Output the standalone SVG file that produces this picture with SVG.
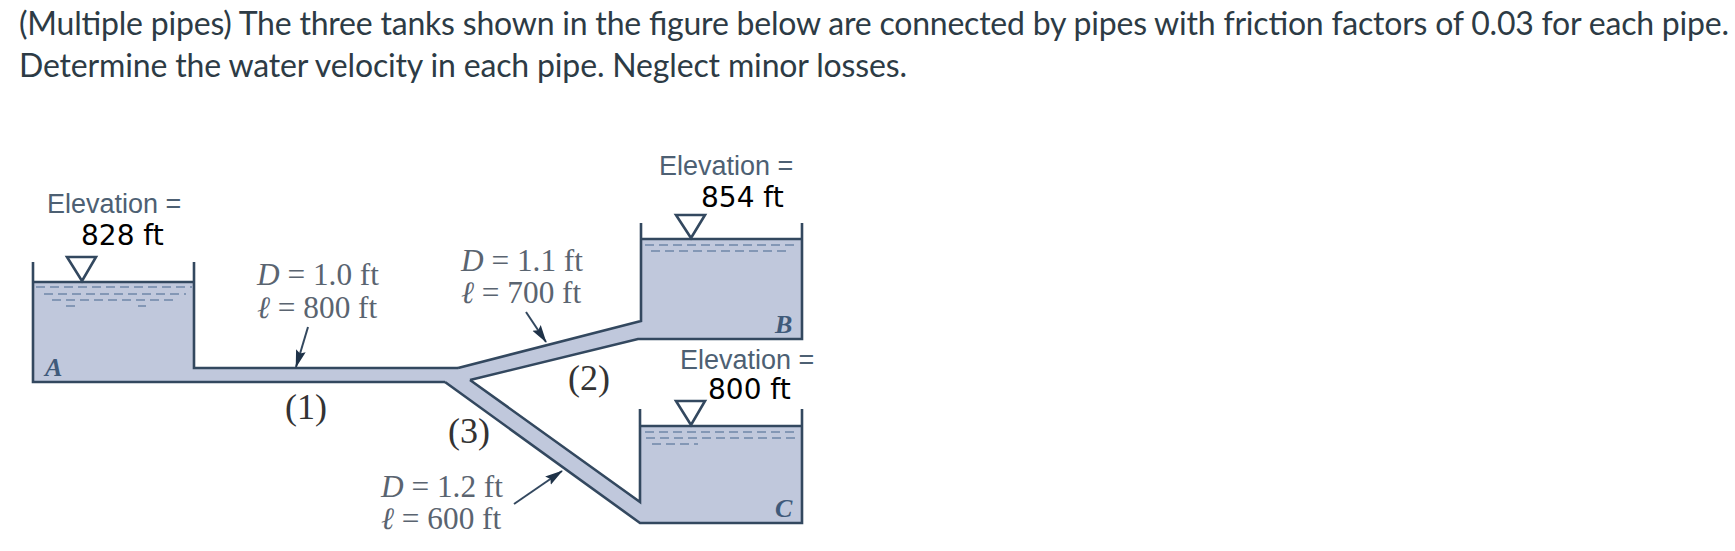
<svg xmlns="http://www.w3.org/2000/svg" width="1735" height="551" viewBox="0 0 1735 551">
<style>
.q{font-family:"Lato","Liberation Sans",sans-serif;font-size:32px;fill:#2d3b45}
.e{font-family:"Liberation Sans",Arial,sans-serif;font-size:27px;fill:#4d6073}
.v{font-family:"DejaVu Sans",sans-serif;font-size:28px;fill:#000}
.m{font-family:"Liberation Serif",serif;font-size:31.3px;fill:#5a6470}
.i{font-style:italic}
.n{font-family:"Liberation Serif",serif;font-size:36px;fill:#333}
.t{font-family:"Liberation Serif",serif;font-style:italic;font-weight:bold;font-size:26px;fill:#3f5a7a}
.w{fill:#c0c8dc;stroke:none}
.l{fill:none;stroke:#33485f;stroke-width:2.6}
.d{fill:none;stroke:#6f86a8;stroke-width:1.4;stroke-dasharray:9 5}
.tri{fill:#fff;stroke:#33485f;stroke-width:2.6}
.a{fill:none;stroke:#33485f;stroke-width:2;marker-end:url(#ah)}
</style>
<defs><marker id="ah" markerWidth="18" markerHeight="12" refX="17" refY="5" orient="auto" markerUnits="userSpaceOnUse"><path d="M0 0L18 5L0 10L3 5Z" fill="#1f3248"/></marker></defs>
<rect width="1735" height="551" fill="#fff"/>
<g id="question">
<text class="q" x="19" y="35" textLength="1710" lengthAdjust="spacing">(Multiple pipes) The three tanks shown in the figure below are connected by pipes with friction factors of 0.03 for each pipe.</text>
<text class="q" x="19" y="77" textLength="888" lengthAdjust="spacing">Determine the water velocity in each pipe. Neglect minor losses.</text>
</g>
<g id="water">
<path class="w" d="M33 282H194V368H458L641 321V239H802V339H638L470 380L640 502V426H802V523H640L445 382H33Z"/>
</g>
<g id="tank-a">
<path class="l" d="M33 262V382H445M194 262V368H458"/>
<path class="l" d="M33 282H194"/>
<path class="d" d="M36 287H192M44 294H186"/>
<path class="d" d="M52 300H178"/>
<path class="d" d="M66 306H76M138 306H146"/>
<path class="tri" d="M67 257H96L82 281Z"/>
<text class="e" x="47" y="213">Elevation =</text>
<text class="v" x="81" y="245">828 ft</text>
<text class="t" x="45" y="376">A</text>
</g>
<g id="tank-b">
<path class="l" d="M458 368L641 321V223M641 239H802V223M802 223V339H638L470 380"/>
<path class="d" d="M645 245H799M651 251H790"/>
<path class="tri" d="M676 215H705L691 238Z"/>
<text class="e" x="659" y="175">Elevation =</text>
<text class="v" x="701" y="207">854 ft</text>
<text class="t" x="775" y="333">B</text>
</g>
<g id="tank-c">
<path class="l" d="M470 380L640 502V409M640 426H802V409M802 409V523H640L445 382"/>
<path class="d" d="M645 432H799M646 438H797M652 444H698"/>
<path class="tri" d="M676 401H705L691 425Z"/>
<text class="e" x="680" y="369">Elevation =</text>
<text class="v" x="708" y="399">800 ft</text>
<text class="t" x="775" y="517">C</text>
</g>
<g id="labels">
<text class="m" x="257" y="285"><tspan class="i">D</tspan> = 1.0 ft</text>
<text class="m" x="257" y="318"><tspan class="i">ℓ</tspan> = 800 ft</text>
<text class="m" x="461" y="271"><tspan class="i">D</tspan> = 1.1 ft</text>
<text class="m" x="461" y="303"><tspan class="i">ℓ</tspan> = 700 ft</text>
<text class="m" x="381" y="497"><tspan class="i">D</tspan> = 1.2 ft</text>
<text class="m" x="381" y="529"><tspan class="i">ℓ</tspan> = 600 ft</text>
<text class="n" x="285" y="419">(1)</text>
<text class="n" x="568" y="390">(2)</text>
<text class="n" x="448" y="443">(3)</text>
</g>
<g id="connectors">
<path class="a" d="M308 327L296 367"/>
<path class="a" d="M526 312L546 342"/>
<path class="a" d="M514 504L562 471"/>
</g>
</svg>
